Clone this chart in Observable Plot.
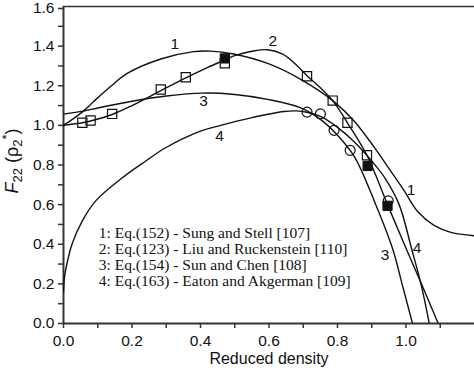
<!DOCTYPE html>
<html><head><meta charset="utf-8">
<script src="https://cdn.jsdelivr.net/npm/d3@7"></script>
<script src="https://cdn.jsdelivr.net/npm/@observablehq/plot@0.6"></script>
<style>body{margin:0;background:#fff} #chart svg{display:block}</style>
</head><body><div id="chart"></div>
<script>
// Curve 1: Sung and Stell
const curve1 = [[0,1.0],[0.03,1.035],[0.058,1.072],[0.089,1.122],[0.14,1.2],[0.186,1.262],[0.284,1.335],[0.38,1.372],[0.43,1.375],[0.497,1.36],[0.6,1.31],[0.7,1.225],[0.786,1.125],[0.849,1.021],[0.907,0.89],[0.95,0.783],[0.994,0.672],[1.034,0.565],[1.082,0.495],[1.131,0.46],[1.2,0.443]];
// Curve 2: Liu and Ruckenstein
const curve2 = [[0,1.0],[0.055,1.013],[0.079,1.022],[0.142,1.055],[0.2,1.1],[0.284,1.175],[0.357,1.24],[0.42,1.292],[0.471,1.33],[0.5,1.352],[0.55,1.374],[0.596,1.382],[0.64,1.36],[0.68,1.305],[0.711,1.25],[0.75,1.19],[0.786,1.125],[0.829,1.013],[0.886,0.849],[0.946,0.6],[1.0,0.38],[1.05,0.18],[1.094,0]];
// Curve 3: Sun and Chen
const curve3 = [[0,1.057],[0.058,1.072],[0.1,1.088],[0.2,1.122],[0.3,1.148],[0.405,1.163],[0.5,1.156],[0.6,1.13],[0.693,1.088],[0.75,1.03],[0.8,0.95],[0.85,0.84],[0.907,0.62],[0.961,0.377],[0.99,0.19],[1.019,0]];
// Curve 4: Eaton and Akgerman
const curve4 = [[0,0.16],[0.002,0.22],[0.006,0.267],[0.025,0.401],[0.055,0.518],[0.094,0.619],[0.172,0.736],[0.24,0.82],[0.298,0.887],[0.4,0.971],[0.459,1.0],[0.547,1.038],[0.644,1.07],[0.68,1.073],[0.711,1.066],[0.75,1.045],[0.8,0.99],[0.85,0.915],[0.9,0.82],[0.94,0.73],[0.98,0.6],[1.016,0.38],[1.045,0.19],[1.068,0]];

// Data markers
const openSquares = [[0.055,1.013],[0.079,1.025],[0.142,1.058],[0.284,1.181],[0.357,1.243],[0.471,1.313],[0.711,1.248],[0.786,1.125],[0.829,1.013],[0.886,0.849]];
const filledSquares = [[0.471,1.338],[0.888,0.795],[0.946,0.594]];
const openCircles = [[0.711,1.067],[0.75,1.058],[0.79,0.975],[0.837,0.874],[0.948,0.619]];

const curveNames = ["1","2","3","4"];
const curveLabelPos = [[0.325,1.41],[0.611,1.425],[0.409,1.122],[0.456,0.946],[1.015,0.672],[1.032,0.382],[0.939,0.347]];
const curveLabelText = ["1","2","3","4","1","4","3"];

const legendLines = [
  "1: Eq.(152) - Sung and Stell [107]",
  "2: Eq.(123) - Liu and Ruckenstein [110]",
  "3: Eq.(154) - Sun and Chen [108]",
  "4: Eq.(163) - Eaton and Akgerman [109]"
];

const xTicks = [0,0.2,0.4,0.6,0.8,1.0];
const xMinorTicks = [0.1,0.3,0.5,0.7,0.9,1.1];
const yTicks = [0,0.2,0.4,0.6,0.8,1.0,1.2,1.4];
const yTopTick = [1.6];
const yMinorTicks = [0.1,0.3,0.5,0.7,0.9,1.1,1.3,1.5];

const xLabel = "Reduced density";

const curves = [curve1, curve2, curve3, curve4];
const lineData = curves.flatMap((c, i) => c.map(([x, y]) => ({x, y, k: curveNames[i]})));

const axisColor = "#333";
const sans = "'Liberation Sans', Arial, sans-serif";
const serif = "'Liberation Serif', 'Times New Roman', serif";

const plot = Plot.plot({
  width: 474, height: 373,
  marginTop: 6, marginBottom: 50, marginLeft: 63, marginRight: 0,
  style: {fontFamily: sans, fontSize: "15px", color: "#111", background: "#fff"},
  x: {domain: [0, 1.2], label: null},
  y: {domain: [0, 1.6], label: null},
  marks: [
    Plot.axisX({ticks: xMinorTicks, tickSize: 5, tickFormat: () => "", stroke: axisColor, strokeWidth: 1.5}),
    Plot.axisX({ticks: xTicks, tickSize: 5, tickPadding: 6, tickFormat: d => d.toFixed(1), stroke: axisColor, strokeWidth: 1.5, fontSize: 15.5, fill: "#111"}),
    Plot.axisY({ticks: yMinorTicks, tickSize: 5, tickFormat: () => "", stroke: axisColor, strokeWidth: 1.5}),
    Plot.axisY({ticks: yTicks, tickSize: 5, tickPadding: 4, tickFormat: d => d.toFixed(1), stroke: axisColor, strokeWidth: 1.5, fontSize: 15.5, fill: "#111"}),
    Plot.axisY({ticks: yTopTick, tickSize: 5, tickPadding: 4, dy: 2, tickFormat: d => d.toFixed(1), stroke: axisColor, strokeWidth: 1.5, fontSize: 15.5, fill: "#111"}),
    Plot.ruleY([0], {stroke: axisColor, strokeWidth: 2}),
    Plot.ruleY([1.6], {stroke: axisColor, strokeWidth: 1.5}),
    Plot.ruleX([0], {stroke: axisColor, strokeWidth: 2}),
    Plot.line(lineData, {x: "x", y: "y", z: "k", curve: "catmull-rom", stroke: "#111", strokeWidth: 1.4, clip: true}),
    Plot.dot(openSquares, {x: d => d[0], y: d => d[1], symbol: "square", r: 5.2, stroke: "#111", strokeWidth: 1.2, fill: "none"}),
    Plot.dot(openCircles, {x: d => d[0], y: d => d[1], symbol: "circle", r: 5, stroke: "#111", strokeWidth: 1.2, fill: "none"}),
    Plot.dot(filledSquares, {x: d => d[0], y: d => d[1], symbol: "square", r: 5.2, stroke: "#111", strokeWidth: 1, fill: "#111"}),
    Plot.text(curveLabelText, {x: (d, i) => curveLabelPos[i][0], y: (d, i) => curveLabelPos[i][1], text: d => d, fontSize: 15.5, fontFamily: sans, fill: "#111"}),
    Plot.text(legendLines, {x: () => 0.103, y: (d, i) => 0.458 - i * 0.0805, text: d => d, textAnchor: "start", fontSize: 15.5, fontFamily: serif, fill: "#111"}),
    Plot.text([xLabel], {frameAnchor: "bottom", dy: 40, text: d => d, fontSize: 16, fontFamily: sans, fill: "#111"})
  ]
});

document.getElementById("chart").appendChild(plot);

// Y axis label: F22 (rho2*)
const svg = d3.select(plot);
const t = svg.append("text")
  .attr("transform", "translate(18,161) rotate(-90)")
  .attr("text-anchor", "middle")
  .attr("font-family", sans)
  .attr("font-size", 18)
  .attr("fill", "#111");
t.append("tspan").attr("font-style", "italic").text("F");
t.append("tspan").attr("font-size", 13).attr("dy", 4).text("22");
t.append("tspan").attr("dy", -4).text(" (ρ");
t.append("tspan").attr("font-size", 13).attr("dy", 4).text("2");
t.append("tspan").attr("font-size", 13).attr("dy", -11).text("*");
t.append("tspan").attr("dy", 7).text(")");
</script>
</body></html>
